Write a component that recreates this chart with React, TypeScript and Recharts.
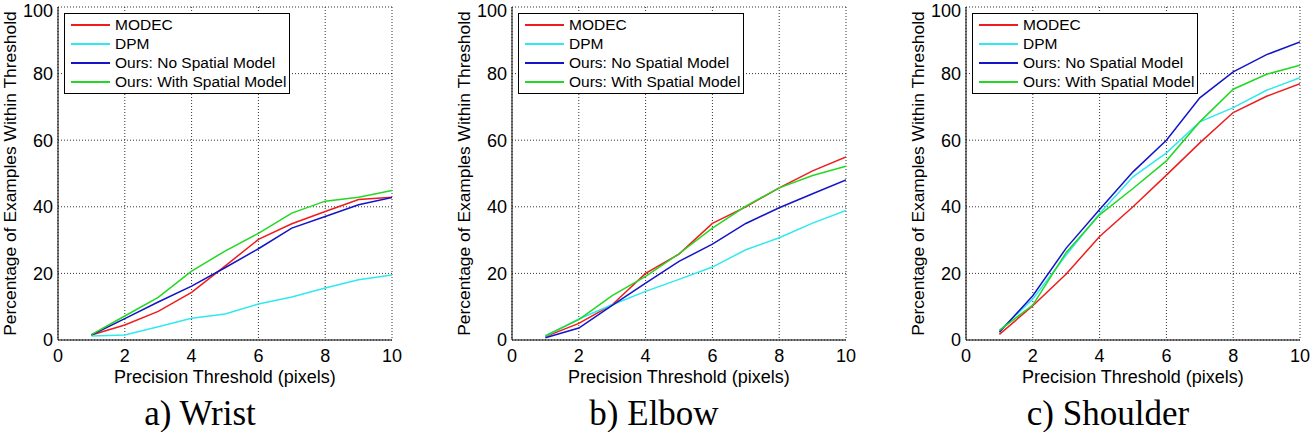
import { LineChart, Line, XAxis, YAxis, CartesianGrid, Legend, Label } from "recharts";

const thresholds = [1, 2, 3, 4, 5, 6, 7, 8, 9, 10];
const xTicks = [0, 2, 4, 6, 8, 10];
const yTicks = [0, 20, 40, 60, 80, 100];

const seriesNames = ["MODEC", "DPM", "Ours: No Spatial Model", "Ours: With Spatial Model"];
const seriesKeys = ["modec", "dpm", "noSpatial", "spatial"];
const seriesColors = ["#ee1c1c", "#2fe9ee", "#1414c8", "#22d822"];

const wristModec = [1.5, 4.5, 8.6, 14.3, 22.2, 30.2, 34.9, 38.6, 42.2, 42.9];
const wristDpm = [1.2, 1.5, 4, 6.5, 7.8, 10.8, 12.9, 15.6, 18.1, 19.5];
const wristNoSpatial = [1.5, 6.4, 11.4, 16.2, 21.7, 27.4, 33.6, 37.1, 40.6, 42.8];
const wristSpatial = [1.6, 7.2, 12.8, 20.7, 26.7, 32, 38.1, 41.7, 42.9, 44.9];

const elbowModec = [1, 5, 10.6, 20, 25.8, 35, 40, 45.7, 50.8, 55];
const elbowDpm = [1.1, 6.3, 10.6, 14.6, 18.2, 21.9, 27.1, 30.7, 35.1, 38.9];
const elbowNoSpatial = [0.7, 3.6, 10.4, 17.1, 23.6, 28.8, 35, 39.7, 43.9, 48.1];
const elbowSpatial = [1.3, 6.1, 13.3, 19.1, 25.9, 33.6, 40.2, 45.7, 49.4, 52.2];

const shoulderModec = [1.7, 10.3, 19.8, 31.1, 40, 49.5, 59.2, 68.3, 73.2, 77];
const shoulderDpm = [2.8, 12.3, 25.5, 38, 49, 56.2, 65.5, 69.8, 75, 78.8];
const shoulderNoSpatial = [2.3, 13.3, 27.6, 39.2, 50.5, 60, 72.7, 80.5, 85.7, 89.5];
const shoulderSpatial = [2.9, 10.5, 26.3, 37.6, 45.5, 53.8, 65.5, 75.3, 79.8, 82.5];

const buildRows = (modec: number[], dpm: number[], noSpatial: number[], spatial: number[]) =>
  thresholds.map((x, i) => ({ x, modec: modec[i], dpm: dpm[i], noSpatial: noSpatial[i], spatial: spatial[i] }));

const panels = [
  { title: "a) Wrist", left: 0, titleX: 200, data: buildRows(wristModec, wristDpm, wristNoSpatial, wristSpatial) },
  { title: "b) Elbow", left: 454, titleX: 654, data: buildRows(elbowModec, elbowDpm, elbowNoSpatial, elbowSpatial) },
  { title: "c) Shoulder", left: 908, titleX: 1108, data: buildRows(shoulderModec, shoulderDpm, shoulderNoSpatial, shoulderSpatial) },
];

const FONT = "'Liberation Sans', Arial, Helvetica, sans-serif";
const tickStyle = { fontSize: 18, fill: "#000", fontFamily: FONT };

// keep legend rows in series order (recharts sorts them by name otherwise)
const renderLegend = (props: any) => {
  const items = [...(props.payload || [])].sort(
    (a: any, b: any) => seriesNames.indexOf(a.value) - seriesNames.indexOf(b.value)
  );
  return (
    <div
      style={{
        width: 226,
        boxSizing: "border-box",
        border: "1px solid #000",
        background: "#fff",
        padding: "1px 0 2px 6px",
        fontFamily: FONT,
        fontSize: 15.5,
        lineHeight: "19px",
        color: "#000",
      }}
    >
      {items.map((p: any) => (
        <div key={p.value} style={{ display: "flex", alignItems: "center", whiteSpace: "nowrap" }}>
          <span
            style={{ display: "inline-block", flexShrink: 0, width: 39, height: 0, borderTop: `2px solid ${p.color}`, marginRight: 5 }}
          />
          {p.value}
        </div>
      ))}
    </div>
  );
};

function Panel({ data }: { data: any[] }) {
  return (
    <LineChart width={404} height={432} data={data} margin={{ top: 7, right: 12, left: 18, bottom: 62 }}>
      <CartesianGrid stroke="#333" strokeDasharray="1 2" strokeWidth={1} />
      <XAxis
        type="number"
        dataKey="x"
        domain={[0, 10]}
        ticks={xTicks}
        height={30}
        tick={tickStyle}
        tickSize={0}
        tickMargin={9}
        axisLine={{ stroke: "#000", strokeWidth: 1 }}
        tickLine={false}
        allowDataOverflow
      >
        <Label
          value="Precision Threshold (pixels)"
          position="bottom"
          offset={0}
          style={{ fontSize: 18, fill: "#000", fontFamily: FONT }}
        />
      </XAxis>
      <YAxis
        type="number"
        domain={[0, 100]}
        ticks={yTicks}
        width={40}
        tick={tickStyle}
        tickSize={0}
        tickMargin={5}
        axisLine={{ stroke: "#000", strokeWidth: 1 }}
        tickLine={false}
        allowDataOverflow
      >
        <Label
          value="Percentage of Examples Within Threshold"
          angle={-90}
          position="center"
          dx={-28}
          style={{ fontSize: 17.4, fill: "#000", fontFamily: FONT, textAnchor: "middle" }}
        />
      </YAxis>
      <Legend
        layout="vertical"
        align="center"
        verticalAlign="middle"
        content={renderLegend}
        wrapperStyle={{ left: 64, top: 13, width: 226 }}
      />
      {seriesKeys.map((k, i) => (
        <Line
          key={k}
          type="linear"
          dataKey={k}
          name={seriesNames[i]}
          stroke={seriesColors[i]}
          strokeWidth={1.5}
          dot={false}
          activeDot={false}
          isAnimationActive={false}
        />
      ))}
    </LineChart>
  );
}

export default function App() {
  return (
    <div style={{ position: "absolute", left: 0, top: 0, width: 1312, height: 432, background: "#fff", overflow: "hidden" }}>
      {panels.map((p) => (
        <div key={p.title}>
          <div style={{ position: "absolute", left: p.left, top: 0 }}>
            <Panel data={p.data} />
          </div>
          <div
            style={{
              position: "absolute",
              left: p.titleX - 120,
              width: 240,
              top: 396,
              textAlign: "center",
              fontFamily: "'Liberation Serif', 'Times New Roman', serif",
              fontSize: 35,
              lineHeight: "35px",
              color: "#000",
            }}
          >
            {p.title}
          </div>
        </div>
      ))}
    </div>
  );
}
